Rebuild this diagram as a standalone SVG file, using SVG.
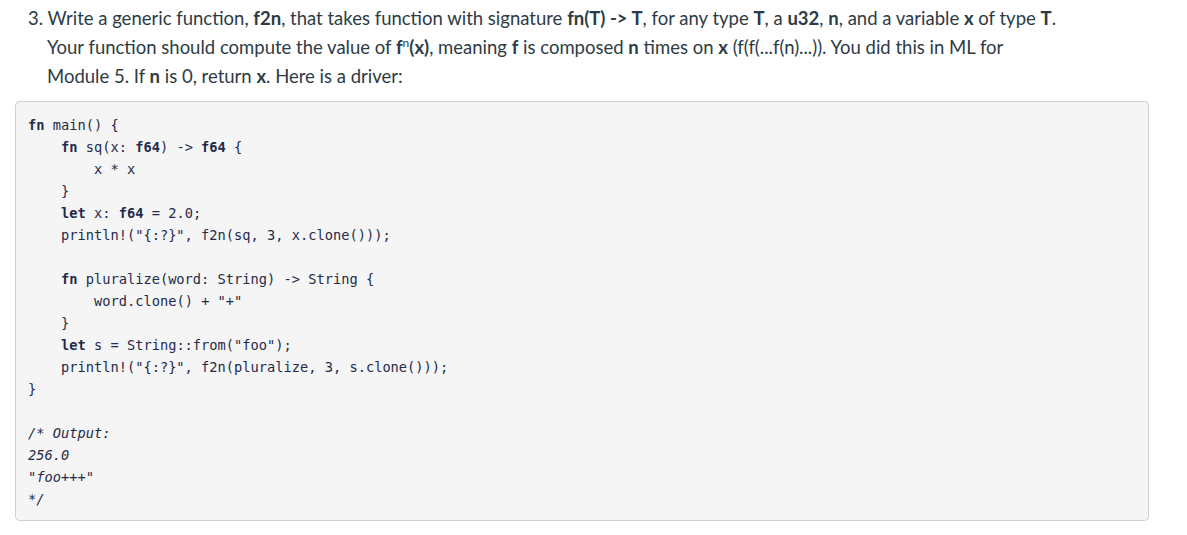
<svg xmlns="http://www.w3.org/2000/svg" width="1187" height="535" viewBox="0 0 1187 535">
<style>
.p{font-family:Lato,"Liberation Sans",sans-serif;font-size:18.5px;fill:#2d3b45}
.b{font-weight:bold}
.c{font-family:"DejaVu Sans Mono","Liberation Mono",monospace;font-size:13.7px;fill:#1f2b4a;white-space:pre}
.i{font-style:italic}
</style>
<rect width="1187" height="535" fill="#fff"/>
<text class="p" x="28" y="25">3. Write a generic function, <tspan class="b">f2n</tspan>, that takes function with signature <tspan class="b">fn(T) -&gt; T</tspan>, for any type <tspan class="b">T</tspan>, a <tspan class="b">u32</tspan>, <tspan class="b">n</tspan>, and a variable <tspan class="b">x</tspan> of type <tspan class="b">T</tspan>.</text>
<text class="p" x="47" y="54">Your function should compute the value of <tspan class="b">f</tspan><tspan font-size="12" dy="-7">n</tspan><tspan class="b" dy="7">(x)</tspan>, meaning <tspan class="b">f</tspan> is composed <tspan class="b">n</tspan> times on <tspan class="b">x</tspan> (f(f(...f(n)...)). You did this in ML for</text>
<text class="p" x="47" y="83">Module 5. If <tspan class="b">n</tspan> is 0, return <tspan class="b">x</tspan>. Here is a driver:</text>
<rect x="15.5" y="101.5" width="1133" height="419" rx="4" fill="#f5f5f5" stroke="#d0d0d0"/>
<text class="c" x="28" y="130"><tspan class="b">fn</tspan> main() {</text>
<text class="c" x="61" y="152"><tspan class="b">fn</tspan> sq(x: <tspan class="b">f64</tspan>) -&gt; <tspan class="b">f64</tspan> {</text>
<text class="c" x="94" y="174">x * x</text>
<text class="c" x="61" y="196">}</text>
<text class="c" x="61" y="218"><tspan class="b">let</tspan> x: <tspan class="b">f64</tspan> = 2.0;</text>
<text class="c" x="61" y="240">println!("{:?}", f2n(sq, 3, x.clone()));</text>
<text class="c" x="61" y="284"><tspan class="b">fn</tspan> pluralize(word: String) -&gt; String {</text>
<text class="c" x="94" y="306">word.clone() + "+"</text>
<text class="c" x="61" y="328">}</text>
<text class="c" x="61" y="350"><tspan class="b">let</tspan> s = String::from("foo");</text>
<text class="c" x="61" y="372">println!("{:?}", f2n(pluralize, 3, s.clone()));</text>
<text class="c" x="28" y="394">}</text>
<text class="c i" x="28" y="438">/* Output:</text>
<text class="c i" x="28" y="460">256.0</text>
<text class="c i" x="28" y="482">"foo+++"</text>
<text class="c i" x="28" y="504">*/</text>
</svg>
